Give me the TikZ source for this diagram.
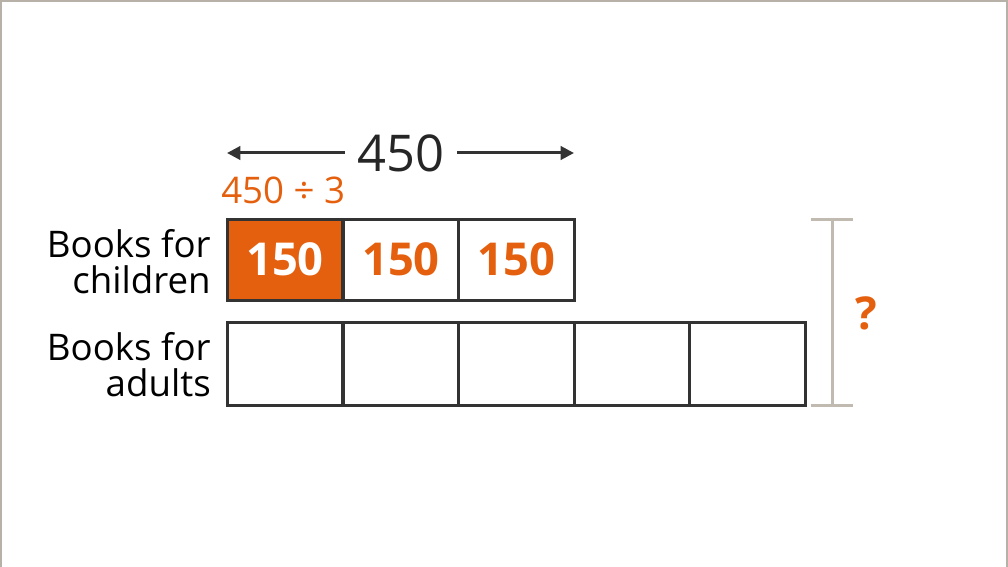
\documentclass[tikz,border=0pt]{standalone}
\usepackage{fontspec}
\setmainfont{Open Sans}
\usepackage{tikz}
\usetikzlibrary{positioning}
\usetikzlibrary{arrows.meta}
\definecolor{bbcorange}{RGB}{229,96,14}
\definecolor{darkline}{RGB}{51,51,51}
\definecolor{framegray}{RGB}{184,177,168}
\definecolor{bargray}{RGB}{192,186,177}
\tikzset{
	cell/.style={draw=darkline, line width=2.25pt, minimum width=86.7pt, inner sep=0pt, font=\fontsize{34}{34}\selectfont\bfseries},
	toprow/.style={cell, minimum height=60.75pt, text=bbcorange},
	lowrow/.style={cell, minimum height=62.25pt},
	rowlabel/.style={anchor=east, align=right, inner sep=0pt, font=\fontsize{27.5}{27}\selectfont},
	dimarrow/.style={draw=darkline, line width=2.25pt, -{Triangle[length=10pt,width=10pt]}}
}

\begin{document}
\begin{tikzpicture}[x=0.75pt,y=-0.75pt]
	\useasboundingbox (0,0) rectangle (1008,567);
	\draw[framegray, line width=1.5pt] (1,567) -- (1,1) -- (1007,1) -- (1007,567);
	% total length
	\node[inner sep=0pt, inner xsep=9.5pt, font=\fontsize{38}{38}\selectfont, text=black!85] (total) at (401,153) {450};
	\coordinate (totl) at (227,153);
	\coordinate (totr) at (574,153);
	\draw[dimarrow] (total.west) -- (totl);
	\draw[dimarrow] (total.east) -- (totr);
	\node[anchor=base west, inner sep=0pt, text=bbcorange, font=\fontsize{27.5}{27.5}\selectfont] (share) at (221,204) {450 ÷ 3};
	% children
	\node[toprow, fill=bbcorange, text=white] (c1) at (285,259.5) {150};
	\node[toprow] (c2) at (401,259.5) {150};
	\node[toprow] (c3) at (516.5,259.5) {150};
	\node[rowlabel] (kids) at (211,262) {Books for\\children};
	% adults
	\foreach \i/\x in {1/285,2/401,3/516.5,4/632,5/747.5}
		\node[lowrow] (a\i) at (\x,363.5) {};
	\node[rowlabel] (grown) at (211,365) {Books for\\adults};
	% bracket
	\coordinate (bt) at (832,219);
	\coordinate (bb) at (832,405);
	\draw[bargray, line width=2.25pt] (bt) -- (bb);
	\draw[bargray, line width=2.25pt] ([xshift=-16]bt) -- ([xshift=16]bt);
	\draw[bargray, line width=2.25pt] ([xshift=-16]bb) -- ([xshift=16]bb);
	\node[text=bbcorange, font=\fontsize{34}{34}\selectfont\bfseries] (ask) at (866,313) {?};
\end{tikzpicture}
\end{document}
